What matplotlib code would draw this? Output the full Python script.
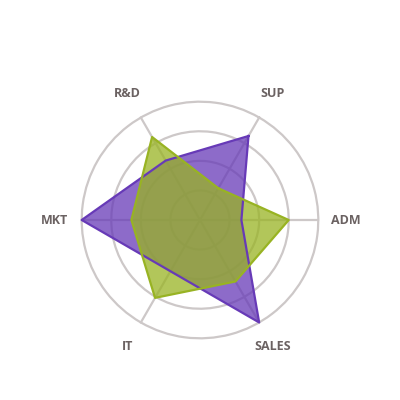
import numpy as np
import matplotlib
matplotlib.use("Agg")
import matplotlib.pyplot as plt

categories = ["SUP", "ADM", "SALES", "IT", "MKT", "R&D"]
series_a = [82, 35, 100, 50, 100, 58]   # purple
series_b = [31, 75, 60, 76, 58, 81]     # green
rings = [25, 50, 75, 100]

purple = "#673ab7"
green = "#98b323"
grid_c = "#cdc8c8"
label_c = "#6b6262"

fig = plt.figure(figsize=(4, 4), dpi=100)
R = 0.5915
ax = fig.add_axes([0.5 - R / 2, 0.45 - R / 2, R, R], projection="polar")
ax.set_theta_offset(np.pi / 3)
ax.set_theta_direction(-1)

n = len(categories)
angles = np.arange(n) * 2 * np.pi / n
ang_closed = np.concatenate([angles, angles[:1]])

for vals, col in [(series_a, purple), (series_b, green)]:
    v = np.concatenate([vals, vals[:1]])
    ax.fill(ang_closed, v, color=col, alpha=0.75, lw=0, zorder=3)
    ax.plot(ang_closed, v, color=col, lw=1.6, zorder=4, clip_on=False)

ax.set_ylim(0, 100)
ax.set_yticks(rings)
ax.set_yticklabels([])
ax.set_xticks(angles)
ax.set_xticklabels([])
ax.grid(True, color=grid_c, lw=1.6)
for gl in ax.yaxis.get_gridlines() + ax.xaxis.get_gridlines():
    gl.set_clip_on(False)
ax.spines["polar"].set_visible(False)
ax.tick_params(length=0)
ax.set_axisbelow(True)

for a, lab in zip(angles, categories):
    ax.text(a, 123, lab, ha="center", va="center", fontsize=9,
            fontweight="bold", family=["Open Sans", "DejaVu Sans"],
            color=label_c, clip_on=False)

fig.savefig("out.png", dpi=100)
